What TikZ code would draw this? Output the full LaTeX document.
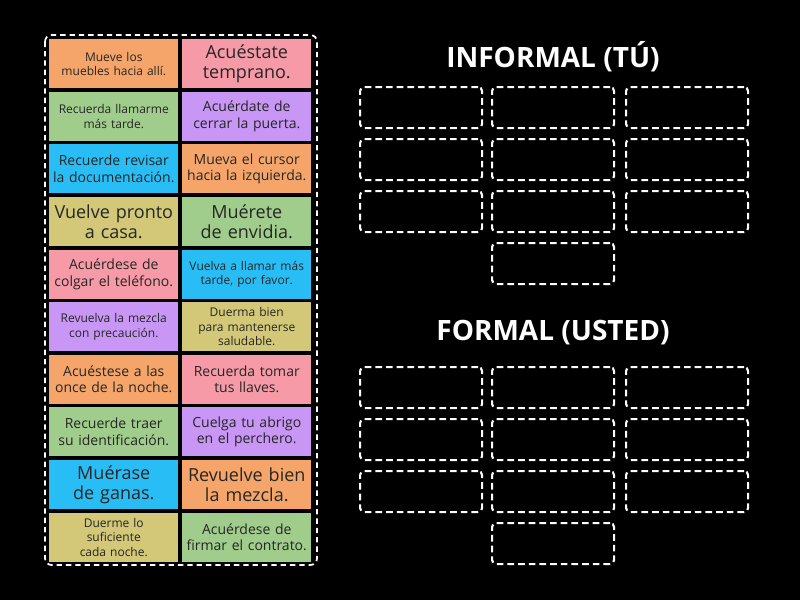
\documentclass[tikz,border=0pt]{standalone}
\usepackage{fontspec}
\setmainfont{Open Sans}
\definecolor{cor}{RGB}{245,165,105}
\definecolor{cpk}{RGB}{246,154,168}
\definecolor{cgr}{RGB}{160,205,140}
\definecolor{cpu}{RGB}{200,150,245}
\definecolor{cbl}{RGB}{40,190,245}
\definecolor{col}{RGB}{210,200,120}
\newlength\pxu \setlength\pxu{0.75pt}
\tikzset{
 tile/.style={minimum width=129\pxu,minimum height=49\pxu,inner sep=1pt,align=center,text=black!85,anchor=north west,text width=125\pxu},
 slot/.style={draw=white,line width=1.6pt,dash pattern=on 5pt off 3pt,rounded corners=3pt,minimum width=122\pxu,minimum height=41\pxu,anchor=north west},
 big/.style={font=\fontsize{13.5}{15}\selectfont},
 mid/.style={font=\fontsize{10.5}{12.5}\selectfont},
 sml/.style={font=\fontsize{9}{10.8}\selectfont},
 head/.style={text=white,font=\fontsize{21}{24}\selectfont\bfseries}
}
\begin{document}
\begin{tikzpicture}[x=0.75pt,y=-0.75pt]
\fill[black] (0,0) rectangle (800,600);
\useasboundingbox (0,0) rectangle (800,600);
\draw[white,line width=1.3pt,dash pattern=on 4pt off 3pt,rounded corners=5pt] (45,35) rectangle (317,565);
\def\tl#1#2#3#4#5{\node[tile,fill=#3,#4] (t#1#2) at ({49+133*(#1-1)},{39+52.6*(#2-1)}) {#5};}
\tl11{cor}{sml}{Mueve los\\muebles hacia allí.}
\tl21{cpk}{big}{Acuéstate\\temprano.}
\tl12{cgr}{sml}{Recuerda llamarme\\más tarde.}
\tl22{cpu}{mid}{Acuérdate de\\cerrar la puerta.}
\tl13{cbl}{mid}{Recuerde revisar\\la documentación.}
\tl23{cor}{mid}{Mueva el cursor\\hacia la izquierda.}
\tl14{col}{big}{Vuelve pronto\\a casa.}
\tl24{cgr}{big}{Muérete\\de envidia.}
\tl15{cpk}{mid}{Acuérdese de\\colgar el teléfono.}
\tl25{cbl}{sml}{Vuelva a llamar más\\tarde, por favor.}
\tl16{cpu}{sml}{Revuelva la mezcla\\con precaución.}
\tl26{col}{sml}{Duerma bien\\para mantenerse\\saludable.}
\tl17{cor}{mid}{Acuéstese a las\\once de la noche.}
\tl27{cpk}{mid}{Recuerda tomar\\tus llaves.}
\tl18{cgr}{mid}{Recuerde traer\\su identificación.}
\tl28{cpu}{mid}{Cuelga tu abrigo\\en el perchero.}
\tl19{cbl}{big}{Muérase\\de ganas.}
\tl29{cor}{big}{Revuelve bien\\la mezcla.}
\tl1{10}{col}{sml}{Duerme lo\\suficiente\\cada noche.}
\tl2{10}{cgr}{mid}{Acuérdese de\\firmar el contrato.}
\node[head] (hi) at (553,57) {INFORMAL (TÚ)};
\node[head] (hf) at (553,333) {FORMAL (USTED)};
\foreach \c/\xx in {1/359,2/491,3/625}{
 \foreach \r/\yy in {1/86,2/138,3/190}{
  \node[slot] (i\c\r) at (\xx,\yy) {};
  \node[slot] (f\c\r) at (\xx,{\yy+280}) {};
 }}
\node[slot] (i24) at (491,242) {};
\node[slot] (f24) at (491,522) {};
\end{tikzpicture}
\end{document}
